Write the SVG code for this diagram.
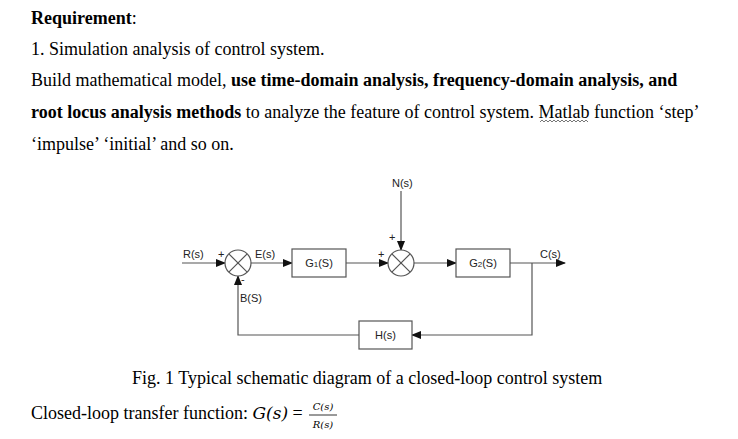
<svg xmlns="http://www.w3.org/2000/svg" width="738" height="439" viewBox="0 0 738 439">
<style>
.t{font-family:"Liberation Serif",serif;font-size:18px;fill:#000}
.d{font-family:"Liberation Sans",sans-serif;font-size:11px;fill:#222}
.ln{stroke:#555;stroke-width:1.2;fill:none}
.bx{stroke:#555;stroke-width:1.2;fill:#fff}
.m{font-family:"DejaVu Serif",serif;font-style:italic}
</style>
<defs><marker id="a" markerWidth="10" markerHeight="8" refX="9" refY="4" orient="auto" markerUnits="userSpaceOnUse"><path d="M0,0L10,4L0,8Z" fill="#111"/></marker></defs>
<rect width="738" height="439" fill="#fff"/>
<text class="t" x="31" y="24"><tspan font-weight="bold">Requirement</tspan>:</text>
<text class="t" x="31" y="55">1. Simulation analysis of control system.</text>
<text class="t" x="31" y="86">Build mathematical model, <tspan font-weight="bold">use time-domain analysis, frequency-domain analysis, and</tspan></text>
<text class="t" x="31" y="118"><tspan font-weight="bold">root locus analysis methods</tspan> to analyze the feature of control system. Matlab function ‘step’</text>
<path d="M540,122 l2,-2 l2,2 l2,-2 l2,2 l2,-2 l2,2 l2,-2 l2,2 l2,-2 l2,2 l2,-2 l2,2 l2,-2 l2,2 l2,-2 l2,2 l2,-2 l2,2 l2,-2 l2,2 l2,-2 l2,2 l2,-2 l2,2" fill="none" stroke="#555" stroke-width="0.8"/>
<text class="t" x="31" y="150">‘impulse’ ‘initial’ and so on.</text>
<g id="connectors">
<line class="ln" x1="182" y1="263" x2="225" y2="263" marker-end="url(#a)"/>
<line class="ln" x1="251" y1="263" x2="292" y2="263" marker-end="url(#a)"/>
<line class="ln" x1="346" y1="263" x2="388" y2="263" marker-end="url(#a)"/>
<line class="ln" x1="401" y1="191" x2="401" y2="250" marker-end="url(#a)"/>
<line class="ln" x1="414" y1="263" x2="456" y2="263" marker-end="url(#a)"/>
<line class="ln" x1="510" y1="263" x2="565" y2="263" marker-end="url(#a)"/>
<polyline class="ln" points="532,263 532,335 412,335" marker-end="url(#a)"/>
<polyline class="ln" points="359,335 238,335 238,276" marker-end="url(#a)"/>
</g>
<g id="sum1"><circle class="bx" cx="238" cy="263" r="13"/><path class="ln" d="M228.8,253.8L247.2,272.2M247.2,253.8L228.8,272.2"/></g>
<g id="sum2"><circle class="bx" cx="401" cy="263" r="13"/><path class="ln" d="M391.8,253.8L410.2,272.2M410.2,253.8L391.8,272.2"/></g>
<g id="g1"><rect class="bx" x="292" y="249" width="54" height="28"/><text class="d" x="319" y="267" text-anchor="middle">G<tspan font-size="8">1</tspan>(S)</text></g>
<g id="g2"><rect class="bx" x="456" y="249" width="54" height="28"/><text class="d" x="483" y="267" text-anchor="middle">G<tspan font-size="8">2</tspan>(S)</text></g>
<g id="h"><rect class="bx" x="359" y="321" width="53" height="28"/><text class="d" x="385.5" y="339" text-anchor="middle">H(s)</text></g>
<g id="labels">
<text class="d" x="183" y="258">R(s)</text>
<text class="d" x="218" y="258" font-size="8">+</text>
<text class="d" x="241" y="283" font-size="8">-</text>
<text class="d" x="255" y="258">E(s)</text>
<text class="d" x="240" y="302">B(S)</text>
<text class="d" x="392" y="187">N(s)</text>
<text class="d" x="389" y="241" font-size="8">+</text>
<text class="d" x="378" y="258" font-size="8">+</text>
<text class="d" x="540" y="258">C(s)</text>
</g>
<text class="t" x="132" y="384">Fig. 1 Typical schematic diagram of a closed-loop control system</text>
<text class="t" x="31" y="419">Closed-loop transfer function: <tspan class="m" font-size="17">G(s)</tspan> =</text>
<text class="m" x="323" y="410" font-size="10" text-anchor="middle">C(s)</text>
<line x1="309" y1="415" x2="337" y2="415" stroke="#000" stroke-width="0.8"/>
<text class="m" x="323" y="428" font-size="10" text-anchor="middle">R(s)</text>
</svg>
